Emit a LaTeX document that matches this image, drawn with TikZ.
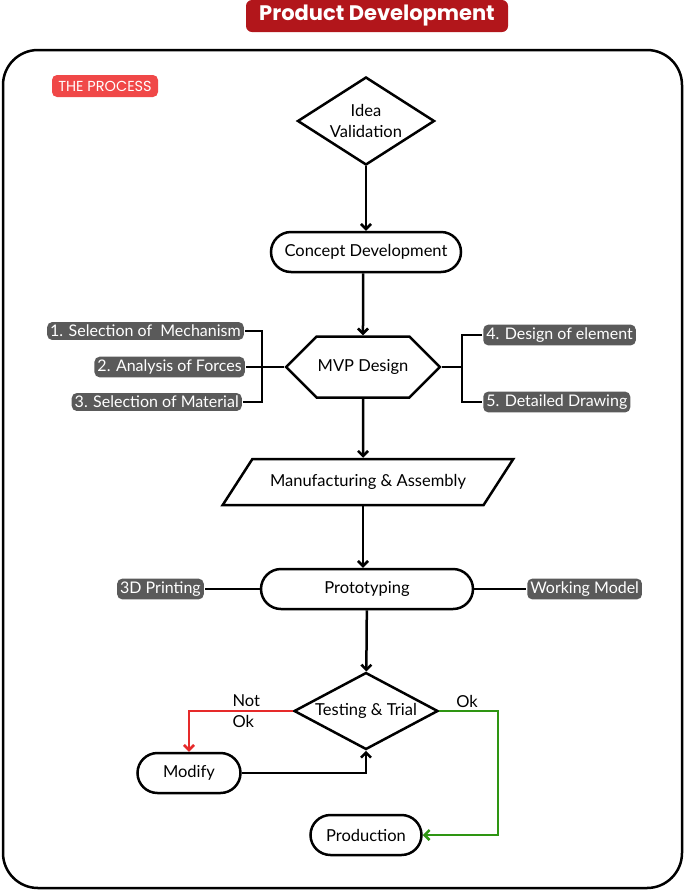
\documentclass[tikz,border=0pt]{standalone}
\usepackage{fontspec}
\setmainfont{Lato}
\newfontfamily\headfont{Poppins}
\usetikzlibrary{shapes.geometric,shapes.symbols,arrows.meta,positioning}
\definecolor{titlered}{HTML}{B2161B}
\definecolor{processred}{HTML}{F04848}
\definecolor{taggray}{HTML}{5A5A5A}
\definecolor{notokred}{HTML}{E62A2A}
\definecolor{okgreen}{HTML}{2E9512}

\begin{document}
\begin{tikzpicture}[x=1pt,y=-1pt,line width=2.5pt,>={Straight Barb[length=5pt,width=10pt]}]
          \tikzstyle{every node}=[font=\fontsize{16.5}{21}\selectfont]
          \tikzstyle{term}=[draw, rounded corners=20pt, minimum height=40pt, inner xsep=12pt]
          \tikzstyle{decision}=[draw, diamond, inner sep=0pt, align=center]
          \tikzstyle{tag}=[fill=taggray, text=white, rounded corners=5pt, inner sep=3pt, font=\fontsize{16}{18}\selectfont]
          \useasboundingbox (0,0) rectangle (685,892);
          % frame and headings
          \draw[rounded corners=35pt] (3,50) rectangle (682,888);
          \node [fill=titlered, text=white, rounded corners=6pt, minimum width=262pt, minimum height=32pt,
                 font=\headfont\fontsize{21}{24}\selectfont\bfseries] (title) at (377,16) {Product Development};
          \node [fill=processred, text=white, rounded corners=5pt, minimum width=106pt, minimum height=22pt, inner sep=2pt,
                 font=\headfont\fontsize{14.5}{16}\selectfont] (process) at (105,86) {THE PROCESS};
          %
          \node [decision, aspect=1.55, minimum width=137pt, minimum height=88pt] (idea) at (366,121) {Idea\\Validation};
          \node [term, minimum width=190pt] (concept) at (366,252) {Concept Development};
          \node [draw, signal, signal to=east and west, signal pointer angle=90, inner sep=1pt,
                 minimum width=149pt, minimum height=61pt] (mvp) at (363,367) {MVP Design};
          \node [draw, trapezium, trapezium left angle=40, trapezium right angle=140, trapezium stretches=true,
                 minimum width=291pt, minimum height=46pt] (manuf) at (368,482) {Manufacturing \& Assembly};
          \node [term, minimum width=212pt] (proto) at (367,589) {Prototyping};
          \node [decision, aspect=1.9, minimum width=144pt, minimum height=77pt] (test) at (366,711) {Testing \& Trial};
          \node [term, minimum width=103pt] (modify) at (189,773) {Modify};
          \node [term, minimum width=111pt] (production) at (366,835) {Production};
          %
          \node [tag, anchor=east] (sel) at (245,331) {1. Selection of~ Mechanism};
          \node [tag, anchor=east] (forces) at (246,367) {2. Analysis of Forces};
          \node [tag, anchor=east] (material) at (243,402) {3. Selection of Material};
          \node [tag, anchor=west] (element) at (482,335) {4. Design of element};
          \node [tag, anchor=west] (drawing) at (482,402) {5. Detailed Drawing};
          \node [tag, anchor=east] (printing) at (205,589) {3D Printing};
          \node [tag, anchor=west] (working) at (526,589) {Working Model};
          %
          \node [align=left, anchor=west] (notok) at (228,711) {Not\\Ok};
          \node (ok) at (467,701) {Ok};
          \coordinate (lj) at (262,367);
          \coordinate (rj) at (462,367);
          \coordinate (okturn) at (498,835);
          %
          \draw[->] (idea) -- (concept);
          \draw[->] (concept.south -| mvp) -- (mvp);
          \draw[->] (mvp) -- (mvp.south |- manuf.north);
          \draw[->] (manuf.south -| mvp) -- (proto.north -| mvp);
          \draw[->] (proto) -- (test);
          \draw (sel.east) -- (sel.east -| lj) -- (material.east -| lj) -- (material.east);
          \draw (forces.east) -- (mvp.west);
          \draw (mvp.east) -- (rj);
          \draw (element.west) -- (element.west -| rj) -- (drawing.west -| rj) -- (drawing.west);
          \draw (printing) -- (proto);
          \draw (proto) -- (working);
          \draw[->, notokred] (test.west) -| (modify.north);
          \draw[->] (modify.east) -| (test.south);
          \draw[->, okgreen] (test.east) -| (okturn) -- (production.east);
        \end{tikzpicture}
\end{document}
